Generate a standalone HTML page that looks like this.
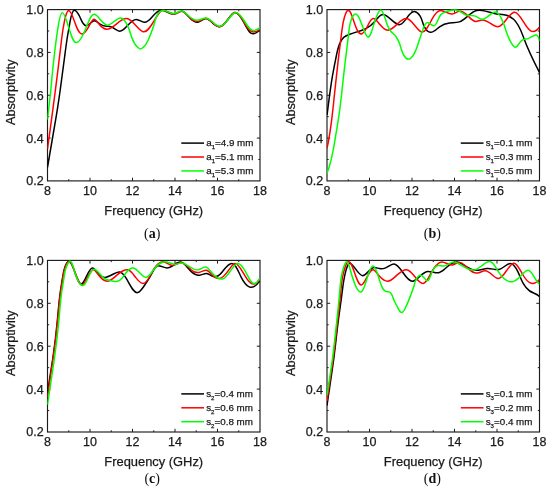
<!DOCTYPE html>
<html><head><meta charset="utf-8"><title>Absorptivity vs Frequency</title>
<style>html,body{margin:0;padding:0;background:#fff;}svg{display:block}</style>
</head><body>
<svg width="550" height="489" viewBox="0 0 550 489">
<defs>
<clipPath id="cpa"><rect x="47.3" y="8.6" width="212.9" height="172.3"/></clipPath>
<clipPath id="cpb"><rect x="326.8" y="8.6" width="212.9" height="172.3"/></clipPath>
<clipPath id="cpc"><rect x="47.3" y="259.4" width="212.9" height="172.60000000000002"/></clipPath>
<clipPath id="cpd"><rect x="326.8" y="259.4" width="212.9" height="172.60000000000002"/></clipPath>
</defs>
<rect width="550" height="489" fill="#ffffff"/>
<rect x="47.5" y="9.6" width="212.5" height="171.3" fill="none" stroke="#1c1c1c" stroke-width="1.15"/>
<path d="M68.75,180.9v-1.7M68.75,9.6v1.7M90.00,180.9v-3.2M90.00,9.6v3.2M111.25,180.9v-1.7M111.25,9.6v1.7M132.50,180.9v-3.2M132.50,9.6v3.2M153.75,180.9v-1.7M153.75,9.6v1.7M175.00,180.9v-3.2M175.00,9.6v3.2M196.25,180.9v-1.7M196.25,9.6v1.7M217.50,180.9v-3.2M217.50,9.6v3.2M238.75,180.9v-1.7M238.75,9.6v1.7M47.5,159.49h1.7M260.0,159.49h-1.7M47.5,138.07h3.2M260.0,138.07h-3.2M47.5,116.66h1.7M260.0,116.66h-1.7M47.5,95.25h3.2M260.0,95.25h-3.2M47.5,73.84h1.7M260.0,73.84h-1.7M47.5,52.42h3.2M260.0,52.42h-3.2M47.5,31.01h1.7M260.0,31.01h-1.7" stroke="#1c1c1c" stroke-width="1" fill="none"/>
<g clip-path="url(#cpa)" fill="none" stroke-width="1.5" stroke-linejoin="round" stroke-linecap="butt">
<path d="M47.50,167.30C49.92,153.89 52.12,140.44 54.40,127.00C55.45,120.80 56.52,114.61 57.50,108.40C58.47,102.28 59.36,96.15 60.20,90.00C60.88,84.99 61.54,79.97 62.20,75.00C62.99,69.03 63.80,63.12 64.60,57.00C65.36,51.21 66.12,45.23 66.90,40.00C67.76,34.24 68.66,29.39 70.10,21.40C71.02,16.30 72.17,9.93 74.50,10.20C76.18,10.40 78.49,14.05 79.90,17.00C81.09,19.48 81.64,21.45 83.20,23.50C83.94,24.48 84.92,25.47 85.90,25.70C88.59,26.32 91.36,21.15 94.10,20.80C96.04,20.55 97.97,22.72 100.00,24.10C102.06,25.51 104.23,26.11 106.50,26.30C107.96,26.42 109.46,26.38 110.90,26.80C114.06,27.73 116.92,30.96 119.60,31.20C125.26,31.71 130.13,18.90 136.50,19.40C139.03,19.60 141.80,21.90 144.20,22.20C149.96,22.92 153.63,12.10 160.00,10.50C160.65,10.34 161.33,10.27 162.00,10.30C166.21,10.50 170.03,14.62 174.10,14.00C176.70,13.60 179.41,11.26 181.70,11.20C184.71,11.12 187.00,14.97 189.90,18.00C192.51,20.73 195.60,22.79 198.60,22.00C201.08,21.35 203.48,18.75 205.70,18.50C208.64,18.17 211.25,21.97 214.30,24.50C215.82,25.76 217.46,26.71 219.00,26.80C225.25,27.15 229.95,13.26 234.80,12.60C238.25,12.13 241.77,18.36 244.70,24.00C248.65,31.60 251.52,38.15 259.50,30.30" stroke="#000000"/>
<path d="M47.50,148.90C49.36,135.38 51.21,121.92 53.00,108.40C53.81,102.26 54.61,96.11 55.40,90.00C56.04,85.02 56.67,80.07 57.30,75.00C58.77,63.17 60.25,50.68 61.50,40.00C62.18,34.17 62.80,28.88 64.50,21.00C65.49,16.40 66.86,10.91 68.50,10.50C70.32,10.04 72.49,15.81 74.50,21.40C76.87,27.97 79.02,34.29 82.10,33.90C84.13,33.64 86.56,30.48 88.60,26.80C90.58,23.21 92.19,19.13 94.10,19.20C95.82,19.27 97.78,22.68 100.00,25.20C102.02,27.48 104.25,29.03 106.50,29.20C113.24,29.70 120.20,17.88 126.70,18.60C132.68,19.26 138.26,30.54 143.10,31.70C149.07,33.13 153.91,19.16 160.00,12.10C160.48,11.54 160.97,11.02 161.50,10.70C164.85,8.64 169.67,14.32 174.10,14.00C176.86,13.80 179.47,11.28 181.70,11.20C184.64,11.09 186.93,15.19 189.90,18.00C192.48,20.44 195.58,21.90 198.60,21.20C201.08,20.63 203.50,18.60 205.70,18.50C208.78,18.35 211.40,21.98 214.50,24.50C216.02,25.74 217.66,26.71 219.20,26.80C225.46,27.18 230.14,13.16 235.00,12.60C238.37,12.21 241.83,18.29 244.90,23.50C248.79,30.10 252.07,35.29 259.50,29.50" stroke="#ff0000"/>
<path d="M47.50,119.50C48.55,109.69 49.82,99.81 50.80,90.00C51.30,85.02 51.72,80.07 52.20,75.00C53.33,63.15 54.81,50.71 56.20,40.00C56.73,35.95 57.24,32.14 58.10,26.80C59.05,20.88 60.43,13.08 62.20,12.60C64.06,12.10 66.35,19.69 68.50,26.80C70.93,34.83 73.17,42.26 76.10,42.60C79.26,42.97 83.21,35.10 86.50,26.80C89.09,20.27 91.27,13.47 94.60,14.30C96.23,14.71 98.13,16.94 100.00,19.20C102.48,22.20 104.90,25.26 107.60,25.20C111.78,25.11 116.64,17.56 120.70,17.90C123.46,18.13 125.85,22.00 127.50,25.50C129.56,29.87 130.45,33.64 131.80,37.50C133.00,40.94 134.56,44.45 137.60,47.30C138.48,48.13 139.49,48.90 140.50,48.90C141.51,48.90 142.52,48.13 143.40,47.30C146.44,44.45 147.89,40.96 149.30,37.50C151.30,32.60 153.21,27.75 154.70,22.20C155.80,18.11 156.66,13.64 160.00,11.50C160.78,11.00 161.69,10.63 162.60,10.50C166.47,9.96 170.22,13.89 174.10,13.50C176.71,13.24 179.38,11.01 181.70,11.00C184.64,10.99 187.01,14.54 189.90,17.00C192.51,19.22 195.55,20.54 198.60,20.00C201.05,19.56 203.51,17.92 205.70,17.90C209.01,17.87 211.73,21.56 215.00,24.10C216.52,25.28 218.16,26.22 219.70,26.30C225.94,26.64 230.51,12.94 235.50,12.40C238.85,12.04 242.39,17.62 245.40,22.50C249.21,28.68 252.18,33.74 259.50,27.90" stroke="#00ff00"/>
</g>
<g style="font-family:'Liberation Sans',Arial,sans-serif;stroke:#1a1a1a;stroke-width:0.25px;font-size:12.5px" fill="#1a1a1a">
<text x="47.50" y="194.80" text-anchor="middle">8</text>
<text x="90.00" y="194.80" text-anchor="middle">10</text>
<text x="132.50" y="194.80" text-anchor="middle">12</text>
<text x="175.00" y="194.80" text-anchor="middle">14</text>
<text x="217.50" y="194.80" text-anchor="middle">16</text>
<text x="260.00" y="194.80" text-anchor="middle">18</text>
<text x="43.70" y="185.35" text-anchor="end">0.2</text>
<text x="43.70" y="142.52" text-anchor="end">0.4</text>
<text x="43.70" y="99.70" text-anchor="end">0.6</text>
<text x="43.70" y="56.87" text-anchor="end">0.8</text>
<text x="43.70" y="14.05" text-anchor="end">1.0</text>
</g>
<text x="153.75" y="214.90" text-anchor="middle" style="font-family:'Liberation Sans',Arial,sans-serif;stroke:#1a1a1a;stroke-width:0.25px;font-size:12.9px" fill="#1a1a1a">Frequency (GHz)</text>
<text transform="translate(15.30,92.30) rotate(-90)" text-anchor="middle" style="font-family:'Liberation Sans',Arial,sans-serif;stroke:#1a1a1a;stroke-width:0.25px;font-size:12.7px" fill="#1a1a1a">Absorptivity</text>
<path d="M181.30,143.10H204.00" stroke="#000000" stroke-width="1.5"/>
<text x="206.20" y="146.20" style="font-family:'Liberation Sans',Arial,sans-serif;stroke:#1a1a1a;stroke-width:0.25px;font-size:9.8px" fill="#1a1a1a">a<tspan dy="2.7" style="font-size:6.08px">1</tspan><tspan dy="-2.7">=4.9 mm</tspan></text>
<path d="M181.30,157.00H204.00" stroke="#ff0000" stroke-width="1.5"/>
<text x="206.20" y="160.10" style="font-family:'Liberation Sans',Arial,sans-serif;stroke:#1a1a1a;stroke-width:0.25px;font-size:9.8px" fill="#1a1a1a">a<tspan dy="2.7" style="font-size:6.08px">1</tspan><tspan dy="-2.7">=5.1 mm</tspan></text>
<path d="M181.30,170.90H204.00" stroke="#00ff00" stroke-width="1.5"/>
<text x="206.20" y="174.00" style="font-family:'Liberation Sans',Arial,sans-serif;stroke:#1a1a1a;stroke-width:0.25px;font-size:9.8px" fill="#1a1a1a">a<tspan dy="2.7" style="font-size:6.08px">1</tspan><tspan dy="-2.7">=5.3 mm</tspan></text>
<text x="152.2" y="237.5" text-anchor="middle" style="font-family:'Liberation Serif','Times New Roman',serif;font-size:14px" fill="#111">(<tspan style="font-weight:bold">a</tspan>)</text>
<rect x="327.0" y="9.6" width="212.5" height="171.3" fill="none" stroke="#1c1c1c" stroke-width="1.15"/>
<path d="M348.25,180.9v-1.7M348.25,9.6v1.7M369.50,180.9v-3.2M369.50,9.6v3.2M390.75,180.9v-1.7M390.75,9.6v1.7M412.00,180.9v-3.2M412.00,9.6v3.2M433.25,180.9v-1.7M433.25,9.6v1.7M454.50,180.9v-3.2M454.50,9.6v3.2M475.75,180.9v-1.7M475.75,9.6v1.7M497.00,180.9v-3.2M497.00,9.6v3.2M518.25,180.9v-1.7M518.25,9.6v1.7M327.0,159.49h1.7M539.5,159.49h-1.7M327.0,138.07h3.2M539.5,138.07h-3.2M327.0,116.66h1.7M539.5,116.66h-1.7M327.0,95.25h3.2M539.5,95.25h-3.2M327.0,73.84h1.7M539.5,73.84h-1.7M327.0,52.42h3.2M539.5,52.42h-3.2M327.0,31.01h1.7M539.5,31.01h-1.7" stroke="#1c1c1c" stroke-width="1" fill="none"/>
<g clip-path="url(#cpb)" fill="none" stroke-width="1.5" stroke-linejoin="round" stroke-linecap="butt">
<path d="M327.00,115.20C328.76,101.82 330.27,88.40 332.60,75.10C333.69,68.88 334.96,62.68 336.20,56.50C337.07,52.14 337.93,47.80 339.70,43.60C340.72,41.18 342.04,38.80 344.00,37.20C345.64,35.85 347.74,35.05 349.80,34.30C352.18,33.44 354.53,32.66 356.90,31.90C358.80,31.29 360.71,30.70 362.60,30.00C363.87,29.53 365.12,29.00 366.30,28.40C369.59,26.72 372.31,24.44 375.00,21.30C377.41,18.49 379.80,14.98 382.50,14.60C387.89,13.84 394.55,25.52 399.90,24.60C405.15,23.70 409.14,10.67 414.60,11.50C416.53,11.79 418.65,13.82 420.00,15.90C422.28,19.41 422.39,23.07 424.40,26.80C425.79,29.38 428.10,31.99 430.40,32.30C433.43,32.71 436.44,29.14 439.60,26.80C442.72,24.49 445.98,23.39 449.50,23.00C452.77,22.64 456.28,22.89 459.30,21.90C462.54,20.83 465.23,18.34 468.00,15.90C470.68,13.54 473.44,11.24 476.70,10.50C478.45,10.10 480.36,10.15 482.20,10.40C487.14,11.06 491.67,13.13 496.50,13.90C499.81,14.43 503.27,14.35 506.50,15.30C509.11,16.07 511.57,17.50 513.60,19.30C518.86,23.98 521.16,31.13 523.70,37.90C528.24,50.00 533.55,60.89 539.40,72.30" stroke="#000000"/>
<path d="M327.00,148.40C331.01,130.79 332.53,112.91 334.40,95.00C335.20,87.39 336.06,79.77 336.90,72.20C337.80,64.13 338.67,56.11 339.70,47.90C340.43,42.08 341.24,36.15 341.90,30.70C342.43,26.31 342.86,22.23 344.50,17.00C345.36,14.25 346.55,11.18 347.70,10.40C351.98,7.49 355.62,36.49 361.90,33.80C362.92,33.36 364.02,32.09 365.00,30.60C368.21,25.75 370.27,18.67 373.20,18.60C376.79,18.51 381.71,28.93 386.80,30.10C393.32,31.59 400.14,17.89 406.50,18.60C412.23,19.24 417.58,31.58 422.10,32.00C425.65,32.33 428.69,25.28 432.00,19.20C434.52,14.57 437.20,10.51 440.70,10.50C444.11,10.49 448.31,14.34 452.20,13.90C454.65,13.62 456.98,11.64 459.30,11.30C462.32,10.86 465.33,13.22 468.00,15.90C470.55,18.45 472.79,21.30 475.60,21.40C477.62,21.48 479.94,20.13 482.20,20.00C487.93,19.66 493.31,27.08 497.90,26.80C500.96,26.61 503.68,22.99 506.50,19.30C509.12,15.86 511.84,12.36 514.40,12.20C517.69,11.99 520.74,17.31 523.70,22.20C528.24,29.70 532.58,36.19 539.40,27.20" stroke="#ff0000"/>
<path d="M327.00,173.20C331.81,161.74 333.43,149.47 335.40,137.30C336.49,130.56 337.69,123.84 338.70,117.10C339.80,109.76 340.67,102.39 341.50,95.00C342.35,87.40 343.15,79.78 344.00,72.20C344.91,64.11 345.87,56.07 346.90,47.90C347.63,42.12 348.39,36.27 349.00,30.70C349.42,26.85 349.77,23.14 351.50,19.00C352.28,17.12 353.35,15.15 354.40,14.40C359.43,10.79 363.94,35.25 367.70,36.90C370.15,37.98 372.28,29.34 374.80,21.40C376.72,15.36 378.86,9.71 380.80,9.90C383.02,10.12 384.96,18.01 386.80,23.50C387.82,26.56 388.81,28.88 390.50,30.90C392.08,32.79 394.26,34.42 395.90,36.40C398.92,40.06 400.06,44.91 401.40,49.50C402.25,52.43 403.18,55.25 405.50,57.60C406.38,58.49 407.46,59.32 408.50,59.30C409.57,59.28 410.60,58.36 411.50,57.40C414.97,53.66 416.39,49.18 417.70,45.10C419.34,39.97 420.80,35.45 423.20,28.70C424.26,25.72 425.50,22.31 427.50,22.40C429.25,22.48 431.58,25.24 433.30,25.70C436.69,26.60 437.67,18.51 440.70,14.80C442.42,12.70 444.80,12.00 447.30,11.30C450.96,10.28 454.88,9.26 458.20,10.50C461.24,11.63 463.77,14.66 466.90,15.40C469.29,15.97 472.02,15.21 474.50,15.90C477.25,16.67 479.69,19.21 482.20,19.30C486.60,19.47 491.20,12.08 495.00,11.90C498.74,11.72 501.72,18.48 503.60,23.60C505.78,29.53 506.50,33.24 509.40,39.40C511.14,43.09 513.67,47.66 515.80,47.20C517.82,46.76 519.49,41.81 522.20,40.10C523.90,39.03 526.01,39.22 528.00,38.60C533.01,37.04 537.32,30.30 539.40,40.80" stroke="#00ff00"/>
</g>
<g style="font-family:'Liberation Sans',Arial,sans-serif;stroke:#1a1a1a;stroke-width:0.25px;font-size:12.5px" fill="#1a1a1a">
<text x="327.00" y="194.80" text-anchor="middle">8</text>
<text x="369.50" y="194.80" text-anchor="middle">10</text>
<text x="412.00" y="194.80" text-anchor="middle">12</text>
<text x="454.50" y="194.80" text-anchor="middle">14</text>
<text x="497.00" y="194.80" text-anchor="middle">16</text>
<text x="539.50" y="194.80" text-anchor="middle">18</text>
<text x="323.20" y="185.35" text-anchor="end">0.2</text>
<text x="323.20" y="142.52" text-anchor="end">0.4</text>
<text x="323.20" y="99.70" text-anchor="end">0.6</text>
<text x="323.20" y="56.87" text-anchor="end">0.8</text>
<text x="323.20" y="14.05" text-anchor="end">1.0</text>
</g>
<text x="433.25" y="214.90" text-anchor="middle" style="font-family:'Liberation Sans',Arial,sans-serif;stroke:#1a1a1a;stroke-width:0.25px;font-size:12.9px" fill="#1a1a1a">Frequency (GHz)</text>
<text transform="translate(294.80,92.30) rotate(-90)" text-anchor="middle" style="font-family:'Liberation Sans',Arial,sans-serif;stroke:#1a1a1a;stroke-width:0.25px;font-size:12.7px" fill="#1a1a1a">Absorptivity</text>
<path d="M460.80,143.10H483.50" stroke="#000000" stroke-width="1.5"/>
<text x="485.70" y="146.20" style="font-family:'Liberation Sans',Arial,sans-serif;stroke:#1a1a1a;stroke-width:0.25px;font-size:9.8px" fill="#1a1a1a">s<tspan dy="2.7" style="font-size:6.08px">1</tspan><tspan dy="-2.7">=0.1 mm</tspan></text>
<path d="M460.80,157.00H483.50" stroke="#ff0000" stroke-width="1.5"/>
<text x="485.70" y="160.10" style="font-family:'Liberation Sans',Arial,sans-serif;stroke:#1a1a1a;stroke-width:0.25px;font-size:9.8px" fill="#1a1a1a">s<tspan dy="2.7" style="font-size:6.08px">1</tspan><tspan dy="-2.7">=0.3 mm</tspan></text>
<path d="M460.80,170.90H483.50" stroke="#00ff00" stroke-width="1.5"/>
<text x="485.70" y="174.00" style="font-family:'Liberation Sans',Arial,sans-serif;stroke:#1a1a1a;stroke-width:0.25px;font-size:9.8px" fill="#1a1a1a">s<tspan dy="2.7" style="font-size:6.08px">1</tspan><tspan dy="-2.7">=0.5 mm</tspan></text>
<text x="432.3" y="237.5" text-anchor="middle" style="font-family:'Liberation Serif','Times New Roman',serif;font-size:14px" fill="#111">(<tspan style="font-weight:bold">b</tspan>)</text>
<rect x="47.5" y="260.4" width="212.5" height="171.60000000000002" fill="none" stroke="#1c1c1c" stroke-width="1.15"/>
<path d="M68.75,432.0v-1.7M68.75,260.4v1.7M90.00,432.0v-3.2M90.00,260.4v3.2M111.25,432.0v-1.7M111.25,260.4v1.7M132.50,432.0v-3.2M132.50,260.4v3.2M153.75,432.0v-1.7M153.75,260.4v1.7M175.00,432.0v-3.2M175.00,260.4v3.2M196.25,432.0v-1.7M196.25,260.4v1.7M217.50,432.0v-3.2M217.50,260.4v3.2M238.75,432.0v-1.7M238.75,260.4v1.7M47.5,410.55h1.7M260.0,410.55h-1.7M47.5,389.10h3.2M260.0,389.10h-3.2M47.5,367.65h1.7M260.0,367.65h-1.7M47.5,346.20h3.2M260.0,346.20h-3.2M47.5,324.75h1.7M260.0,324.75h-1.7M47.5,303.30h3.2M260.0,303.30h-3.2M47.5,281.85h1.7M260.0,281.85h-1.7" stroke="#1c1c1c" stroke-width="1" fill="none"/>
<g clip-path="url(#cpc)" fill="none" stroke-width="1.5" stroke-linejoin="round" stroke-linecap="butt">
<path d="M47.50,393.50C49.06,381.28 51.21,369.18 53.00,357.00C54.81,344.70 56.25,332.32 57.40,320.00C58.27,310.69 58.97,301.42 60.30,292.00C61.03,286.85 61.94,281.66 62.70,276.80C63.20,273.63 63.63,270.61 64.90,267.00C65.69,264.75 66.80,262.27 67.90,261.50C72.49,258.26 76.82,284.78 81.50,283.90C84.94,283.25 88.58,267.81 92.50,268.10C94.68,268.26 96.94,273.26 100.00,275.70C101.35,276.78 102.86,277.35 104.40,277.40C109.73,277.56 115.47,271.35 119.80,272.00C122.73,272.44 125.02,276.01 127.30,280.10C130.64,286.10 133.96,293.20 137.60,292.60C140.37,292.14 143.33,287.23 145.80,283.40C148.35,279.44 150.38,276.64 152.40,272.50C153.75,269.73 155.11,266.36 157.80,265.90C158.31,265.81 158.86,265.83 159.40,265.90C162.07,266.25 164.51,267.92 167.00,267.90C171.54,267.86 176.22,262.16 180.10,262.10C183.98,262.04 187.07,267.60 191.00,271.40C193.61,273.91 196.58,275.65 199.70,275.20C202.10,274.85 204.58,273.21 206.80,273.50C208.82,273.76 210.62,275.61 212.80,276.30C214.18,276.74 215.71,276.70 217.00,276.30C219.72,275.45 221.40,272.96 223.50,270.30C226.03,267.10 229.18,263.65 231.70,263.50C235.54,263.27 237.94,270.67 241.00,276.80C245.70,286.22 251.95,292.66 259.50,281.20" stroke="#000000"/>
<path d="M47.50,397.00C49.36,383.64 51.44,370.36 53.30,357.00C55.01,344.69 56.53,332.32 57.70,320.00C58.59,310.69 59.28,301.42 60.60,292.00C61.32,286.85 62.24,281.66 63.00,276.80C63.50,273.63 63.93,270.59 65.20,267.00C65.99,264.76 67.11,262.30 68.20,261.50C72.94,258.01 77.08,286.01 82.10,285.00C85.61,284.29 89.54,269.41 93.50,269.70C95.50,269.84 97.50,273.85 100.00,276.80C102.17,279.36 104.71,281.13 107.10,281.20C110.62,281.31 113.80,277.74 117.50,274.60C120.91,271.71 124.76,269.18 127.80,269.80C130.89,270.43 133.14,274.29 136.00,277.90C138.23,280.72 140.81,283.38 143.10,283.40C146.37,283.43 149.02,278.04 151.30,273.50C153.77,268.58 155.81,264.67 160.00,262.60C160.82,262.20 161.72,261.86 162.60,261.80C166.01,261.56 169.15,265.37 172.50,265.40C175.43,265.42 178.53,262.56 181.20,262.40C184.75,262.19 187.53,266.75 191.00,269.70C193.30,271.66 195.90,272.91 198.60,272.50C201.27,272.10 204.04,270.08 206.30,270.30C209.46,270.61 211.61,275.32 215.00,277.40C216.31,278.20 217.81,278.61 219.20,278.50C226.20,277.92 230.66,264.11 235.00,263.50C242.00,262.52 248.70,295.89 259.50,279.50" stroke="#ff0000"/>
<path d="M47.50,404.70C49.77,388.77 52.38,372.94 54.60,357.00C56.31,344.69 57.79,332.32 58.90,320.00C59.73,310.69 60.36,301.42 61.70,292.00C62.44,286.85 63.39,281.65 64.10,276.80C64.57,273.63 64.93,270.61 66.30,267.00C67.17,264.71 68.44,262.19 69.50,261.50C71.90,259.95 73.19,267.83 75.50,274.60C77.64,280.87 80.65,286.18 83.20,285.50C85.16,284.98 86.85,280.93 88.60,276.80C90.20,273.02 91.86,269.16 94.10,269.20C95.93,269.23 98.16,271.86 100.00,274.10C101.49,275.92 102.73,277.47 104.40,278.50C106.00,279.48 107.99,279.98 110.00,280.50C112.55,281.16 115.12,281.85 117.50,281.20C118.98,280.80 120.38,279.88 121.50,278.80C123.38,276.99 124.45,274.73 126.20,272.50C127.97,270.24 130.43,268.00 132.70,267.90C135.41,267.78 137.85,270.70 140.40,273.50C142.19,275.46 144.03,277.36 145.80,277.40C148.17,277.45 150.42,274.16 152.40,271.40C154.84,268.01 156.88,265.41 160.00,263.50C161.45,262.61 163.13,261.88 164.80,261.80C168.46,261.63 172.05,264.67 175.70,264.30C177.55,264.11 179.42,263.05 181.20,262.90C184.21,262.64 186.96,265.00 189.90,267.00C192.68,268.89 195.64,270.46 198.60,269.70C200.92,269.10 203.23,267.08 205.20,267.00C207.92,266.89 209.97,270.51 212.60,273.50C215.63,276.94 219.42,279.57 222.50,279.00C225.42,278.46 227.69,275.04 230.10,271.40C232.56,267.69 235.16,263.75 237.70,263.50C240.79,263.20 243.79,268.35 246.50,273.50C250.58,281.26 253.98,289.03 259.50,278.50" stroke="#00ff00"/>
</g>
<g style="font-family:'Liberation Sans',Arial,sans-serif;stroke:#1a1a1a;stroke-width:0.25px;font-size:12.5px" fill="#1a1a1a">
<text x="47.50" y="445.90" text-anchor="middle">8</text>
<text x="90.00" y="445.90" text-anchor="middle">10</text>
<text x="132.50" y="445.90" text-anchor="middle">12</text>
<text x="175.00" y="445.90" text-anchor="middle">14</text>
<text x="217.50" y="445.90" text-anchor="middle">16</text>
<text x="260.00" y="445.90" text-anchor="middle">18</text>
<text x="43.70" y="436.45" text-anchor="end">0.2</text>
<text x="43.70" y="393.55" text-anchor="end">0.4</text>
<text x="43.70" y="350.65" text-anchor="end">0.6</text>
<text x="43.70" y="307.75" text-anchor="end">0.8</text>
<text x="43.70" y="264.85" text-anchor="end">1.0</text>
</g>
<text x="153.75" y="466.00" text-anchor="middle" style="font-family:'Liberation Sans',Arial,sans-serif;stroke:#1a1a1a;stroke-width:0.25px;font-size:12.9px" fill="#1a1a1a">Frequency (GHz)</text>
<text transform="translate(15.30,343.10) rotate(-90)" text-anchor="middle" style="font-family:'Liberation Sans',Arial,sans-serif;stroke:#1a1a1a;stroke-width:0.25px;font-size:12.7px" fill="#1a1a1a">Absorptivity</text>
<path d="M181.30,393.90H204.00" stroke="#000000" stroke-width="1.5"/>
<text x="206.20" y="397.00" style="font-family:'Liberation Sans',Arial,sans-serif;stroke:#1a1a1a;stroke-width:0.25px;font-size:9.8px" fill="#1a1a1a">s<tspan dy="2.7" style="font-size:6.08px">2</tspan><tspan dy="-2.7">=0.4 mm</tspan></text>
<path d="M181.30,407.80H204.00" stroke="#ff0000" stroke-width="1.5"/>
<text x="206.20" y="410.90" style="font-family:'Liberation Sans',Arial,sans-serif;stroke:#1a1a1a;stroke-width:0.25px;font-size:9.8px" fill="#1a1a1a">s<tspan dy="2.7" style="font-size:6.08px">2</tspan><tspan dy="-2.7">=0.6 mm</tspan></text>
<path d="M181.30,421.70H204.00" stroke="#00ff00" stroke-width="1.5"/>
<text x="206.20" y="424.80" style="font-family:'Liberation Sans',Arial,sans-serif;stroke:#1a1a1a;stroke-width:0.25px;font-size:9.8px" fill="#1a1a1a">s<tspan dy="2.7" style="font-size:6.08px">2</tspan><tspan dy="-2.7">=0.8 mm</tspan></text>
<text x="152.2" y="483.0" text-anchor="middle" style="font-family:'Liberation Serif','Times New Roman',serif;font-size:14px" fill="#111">(<tspan style="font-weight:bold">c</tspan>)</text>
<rect x="327.0" y="260.4" width="212.5" height="171.60000000000002" fill="none" stroke="#1c1c1c" stroke-width="1.15"/>
<path d="M348.25,432.0v-1.7M348.25,260.4v1.7M369.50,432.0v-3.2M369.50,260.4v3.2M390.75,432.0v-1.7M390.75,260.4v1.7M412.00,432.0v-3.2M412.00,260.4v3.2M433.25,432.0v-1.7M433.25,260.4v1.7M454.50,432.0v-3.2M454.50,260.4v3.2M475.75,432.0v-1.7M475.75,260.4v1.7M497.00,432.0v-3.2M497.00,260.4v3.2M518.25,432.0v-1.7M518.25,260.4v1.7M327.0,410.55h1.7M539.5,410.55h-1.7M327.0,389.10h3.2M539.5,389.10h-3.2M327.0,367.65h1.7M539.5,367.65h-1.7M327.0,346.20h3.2M539.5,346.20h-3.2M327.0,324.75h1.7M539.5,324.75h-1.7M327.0,303.30h3.2M539.5,303.30h-3.2M327.0,281.85h1.7M539.5,281.85h-1.7" stroke="#1c1c1c" stroke-width="1" fill="none"/>
<g clip-path="url(#cpd)" fill="none" stroke-width="1.5" stroke-linejoin="round" stroke-linecap="butt">
<path d="M327.00,405.60C329.22,389.50 331.93,373.16 334.00,357.00C335.57,344.74 336.77,332.58 338.40,320.00C339.64,310.46 341.13,300.69 342.20,292.00C342.99,285.58 343.56,279.75 345.70,271.40C346.63,267.79 347.84,263.71 349.50,263.20C352.82,262.18 357.89,275.51 362.60,275.70C366.27,275.85 369.73,268.00 374.10,267.50C375.81,267.30 377.65,268.22 379.50,268.60C381.35,268.98 383.21,268.80 385.00,268.10C388.10,266.88 391.01,264.07 393.60,263.90C397.03,263.68 399.90,268.10 402.90,272.50C406.01,277.05 409.26,281.57 412.70,281.20C415.19,280.93 417.77,278.11 420.40,275.70C422.83,273.47 425.29,271.59 428.00,271.40C430.05,271.26 432.24,272.08 434.50,272.50C436.18,272.81 437.89,272.89 439.40,272.50C442.29,271.75 444.46,269.26 447.00,267.00C449.97,264.36 453.47,262.02 456.80,262.10C460.50,262.19 464.01,265.27 467.70,267.50C470.19,269.00 472.76,270.12 475.40,270.30C479.31,270.56 483.38,268.76 487.40,268.60C489.93,268.50 492.44,269.05 495.00,269.40C496.40,269.59 497.82,269.72 499.20,269.40C503.41,268.41 507.22,263.19 510.60,263.50C513.40,263.76 515.90,267.81 517.70,271.40C519.94,275.86 521.11,279.60 523.20,283.40C524.79,286.28 526.91,289.19 529.70,291.00C532.85,293.04 536.86,293.68 539.50,296.50" stroke="#000000"/>
<path d="M327.00,401.00C328.93,386.39 331.46,371.62 333.40,357.00C335.03,344.75 336.23,332.60 337.70,320.00C338.81,310.47 340.06,300.69 340.80,292.00C341.33,285.77 341.59,280.10 343.70,272.00C344.91,267.37 346.72,261.96 348.50,261.50C352.64,260.44 356.63,286.21 361.50,285.00C364.97,284.14 368.89,269.58 373.00,269.70C375.14,269.76 377.33,273.81 380.00,276.80C382.35,279.43 385.08,281.24 387.60,281.20C391.02,281.15 394.06,277.71 397.50,274.60C400.52,271.87 403.84,269.40 406.70,269.70C409.68,270.01 412.15,273.33 414.90,276.80C417.57,280.17 420.50,283.69 423.10,283.40C425.89,283.09 428.29,278.38 430.20,274.60C431.93,271.18 433.25,268.53 435.60,265.90C437.21,264.10 439.31,262.31 441.50,262.10C445.05,261.75 448.84,265.55 452.50,265.00C454.75,264.66 456.95,262.69 459.00,262.40C462.05,261.97 464.79,265.28 467.70,268.10C470.77,271.07 474.03,273.50 477.50,273.00C480.03,272.64 482.68,270.71 485.20,270.80C489.93,270.97 494.25,278.24 498.10,278.50C501.17,278.71 503.94,274.48 506.80,270.30C509.20,266.79 511.67,263.32 513.90,263.20C516.83,263.05 519.35,268.66 522.10,273.50C526.79,281.76 532.13,287.77 539.50,279.50" stroke="#ff0000"/>
<path d="M327.00,395.50C328.86,382.72 331.00,369.80 332.70,357.00C334.32,344.75 335.54,332.59 336.90,320.00C337.93,310.48 339.04,300.72 339.70,292.00C340.19,285.56 340.43,279.70 342.50,271.40C343.53,267.28 345.00,262.56 346.30,261.80C348.33,260.61 349.94,269.12 352.30,276.80C354.88,285.17 358.36,292.57 361.00,292.10C363.50,291.66 365.24,284.21 367.50,276.80C369.16,271.36 371.09,265.94 373.00,265.90C375.44,265.84 377.83,274.57 379.50,280.10C380.15,282.27 380.70,283.95 381.50,285.90C382.42,288.14 383.69,290.75 385.90,291.40C386.95,291.71 388.21,291.58 389.20,291.90C391.67,292.69 392.51,296.26 393.50,299.00C394.61,302.05 395.91,304.08 397.60,307.30C398.82,309.63 400.25,312.60 401.70,312.60C403.13,312.60 404.58,309.70 405.70,307.30C407.02,304.47 407.89,302.35 408.80,300.10C410.69,295.44 412.76,290.25 414.30,284.80C415.22,281.55 415.94,278.20 418.60,276.10C419.15,275.66 419.79,275.28 420.40,275.20C422.98,274.86 425.18,279.85 426.90,280.60C429.08,281.55 430.47,275.69 432.40,271.40C433.91,268.03 435.75,265.64 438.30,265.40C439.94,265.25 441.88,265.99 443.70,265.90C447.24,265.73 450.36,262.42 453.50,262.10C456.36,261.81 459.23,263.99 462.30,265.90C466.67,268.62 471.43,270.78 475.40,269.70C478.03,268.98 480.31,266.84 483.00,264.80C485.21,263.13 487.69,261.53 489.70,261.60C493.19,261.72 495.24,266.89 498.10,271.40C501.98,277.53 507.34,282.45 512.30,281.70C515.29,281.25 518.12,278.74 521.00,275.70C523.43,273.13 525.89,270.18 528.10,270.30C532.51,270.54 535.95,282.97 539.50,283.90" stroke="#00ff00"/>
</g>
<g style="font-family:'Liberation Sans',Arial,sans-serif;stroke:#1a1a1a;stroke-width:0.25px;font-size:12.5px" fill="#1a1a1a">
<text x="327.00" y="445.90" text-anchor="middle">8</text>
<text x="369.50" y="445.90" text-anchor="middle">10</text>
<text x="412.00" y="445.90" text-anchor="middle">12</text>
<text x="454.50" y="445.90" text-anchor="middle">14</text>
<text x="497.00" y="445.90" text-anchor="middle">16</text>
<text x="539.50" y="445.90" text-anchor="middle">18</text>
<text x="323.20" y="436.45" text-anchor="end">0.2</text>
<text x="323.20" y="393.55" text-anchor="end">0.4</text>
<text x="323.20" y="350.65" text-anchor="end">0.6</text>
<text x="323.20" y="307.75" text-anchor="end">0.8</text>
<text x="323.20" y="264.85" text-anchor="end">1.0</text>
</g>
<text x="433.25" y="466.00" text-anchor="middle" style="font-family:'Liberation Sans',Arial,sans-serif;stroke:#1a1a1a;stroke-width:0.25px;font-size:12.9px" fill="#1a1a1a">Frequency (GHz)</text>
<text transform="translate(294.80,343.10) rotate(-90)" text-anchor="middle" style="font-family:'Liberation Sans',Arial,sans-serif;stroke:#1a1a1a;stroke-width:0.25px;font-size:12.7px" fill="#1a1a1a">Absorptivity</text>
<path d="M460.80,393.90H483.50" stroke="#000000" stroke-width="1.5"/>
<text x="485.70" y="397.00" style="font-family:'Liberation Sans',Arial,sans-serif;stroke:#1a1a1a;stroke-width:0.25px;font-size:9.8px" fill="#1a1a1a">s<tspan dy="2.7" style="font-size:6.08px">3</tspan><tspan dy="-2.7">=0.1 mm</tspan></text>
<path d="M460.80,407.80H483.50" stroke="#ff0000" stroke-width="1.5"/>
<text x="485.70" y="410.90" style="font-family:'Liberation Sans',Arial,sans-serif;stroke:#1a1a1a;stroke-width:0.25px;font-size:9.8px" fill="#1a1a1a">s<tspan dy="2.7" style="font-size:6.08px">3</tspan><tspan dy="-2.7">=0.2 mm</tspan></text>
<path d="M460.80,421.70H483.50" stroke="#00ff00" stroke-width="1.5"/>
<text x="485.70" y="424.80" style="font-family:'Liberation Sans',Arial,sans-serif;stroke:#1a1a1a;stroke-width:0.25px;font-size:9.8px" fill="#1a1a1a">s<tspan dy="2.7" style="font-size:6.08px">3</tspan><tspan dy="-2.7">=0.4 mm</tspan></text>
<text x="432.3" y="483.0" text-anchor="middle" style="font-family:'Liberation Serif','Times New Roman',serif;font-size:14px" fill="#111">(<tspan style="font-weight:bold">d</tspan>)</text>
</svg>
</body></html>
